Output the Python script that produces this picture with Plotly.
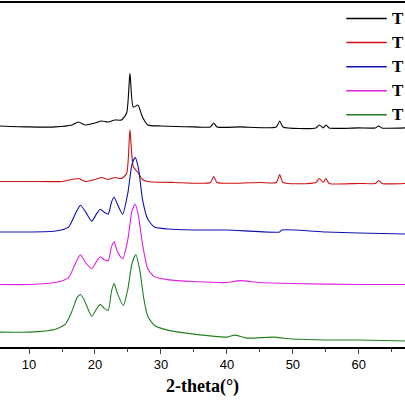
import plotly.graph_objects as go

# 2-theta positions and offset intensities (arbitrary units)
x_black = [5.6, 10, 14, 16.5, 17.5, 18.5, 20, 21, 22, 23, 24, 24.8, 25.3, 25.8, 26.5, 27.2, 28, 30, 35, 37.5, 38, 38.5, 42, 47.5, 48, 48.5, 53.5, 54, 54.6, 55, 55.5, 60, 62.5, 63, 63.5, 67]
y_black = [279, 278, 278, 280, 283, 280, 282, 284, 283, 285, 285, 292, 332, 298, 300, 288, 280, 279, 278, 278, 282, 278, 278, 278, 284, 278, 277, 280, 277, 280, 277, 277, 277, 279, 277, 277]

x_red = [5.6, 10, 15, 17.5, 18.5, 20, 21, 22, 23, 24, 24.8, 25.3, 25.8, 26.5, 27.2, 28, 32, 37.5, 38, 38.5, 45, 47.5, 48, 48.5, 53.5, 54, 54.6, 55, 55.5, 60, 62.5, 63, 63.5, 67]
y_red = [223, 223, 223, 226, 223, 225, 227, 225, 227, 226, 231, 275, 238, 232, 225, 223, 222, 222, 228, 222, 222, 222, 230, 222, 222, 226, 222, 226, 221, 221, 221, 224, 221, 221]

x_blue = [5.6, 10, 14, 16, 17, 17.8, 18.6, 19.5, 20.3, 20.8, 21.4, 22, 22.5, 22.9, 23.4, 24.2, 25, 25.6, 26.1, 26.6, 27.2, 28, 29, 31, 35, 40, 48, 48.3, 55, 60, 67]
y_blue = [172, 172, 173, 177, 190, 199, 192, 183, 191, 195, 192, 190, 202, 207, 200, 190, 212, 240, 247, 236, 205, 185, 177, 175, 174, 174, 172, 174, 172, 171, 170]

x_mag = [5.6, 10, 14, 16, 17, 17.8, 18.6, 19.5, 20.3, 20.8, 21.4, 22, 22.5, 22.9, 23.4, 24.2, 25, 25.6, 26.1, 26.6, 27.2, 28, 29, 31, 35, 40, 42, 45, 50, 60, 67]
y_mag = [119, 119, 121, 126, 140, 149, 141, 135, 143, 147, 144, 143, 157, 162, 152, 145, 165, 193, 200, 188, 160, 135, 127, 124, 122, 121, 123, 121, 120, 119, 119]

x_green = [5.6, 10, 14, 15.5, 16.5, 17.3, 17.8, 18.4, 19.5, 20.3, 20.8, 21.4, 22, 22.5, 22.9, 23.4, 24.3, 25, 25.6, 26.2, 26.8, 27.4, 28, 29, 31, 35, 40, 41.2, 43, 47, 50, 55, 60, 67]
y_green = [71, 71, 74, 79, 92, 106, 109, 103, 87, 95, 99, 95, 93, 112, 120, 110, 98, 115, 140, 149, 133, 105, 87, 78, 73, 69, 66, 68, 65, 66, 64, 63, 63, 62]

x_ticks = [10, 20, 30, 40, 50, 60]
legend_names = ["T", "T", "T", "T", "T"]
colors = ["#000000", "#d01010", "#1010b0", "#e020e0", "#208020"]

series = [(x_black, y_black), (x_red, y_red), (x_blue, y_blue), (x_mag, y_mag), (x_green, y_green)]

fig = go.Figure()
for (xs, ys), c in zip(series, colors):
    fig.add_trace(go.Scatter(x=xs, y=ys, mode="lines", line=dict(color=c, width=1.1, shape="spline", smoothing=0.6),
                             showlegend=False))

# legend drawn manually (cropped at the right edge, as in the reference)
leg_y = [0.955, 0.885, 0.815, 0.745, 0.675]
for yy, c, name in zip(leg_y, colors, legend_names):
    fig.add_shape(type="line", xref="paper", yref="paper", x0=0.855, x1=0.955, y0=yy, y1=yy,
                  line=dict(color=c, width=1.5))
    fig.add_annotation(xref="paper", yref="paper", x=0.962, y=yy, yanchor="middle",
                       text="<b>" + name + "</b>", showarrow=False, xanchor="left",
                       font=dict(family="Liberation Serif", size=17, color="black"))

fig.update_layout(
    width=405, height=405, margin=dict(l=0, r=0, t=3, b=58),
    plot_bgcolor="white", paper_bgcolor="white",
    xaxis=dict(range=[5.6, 67], tickvals=x_ticks, ticks="outside", ticklen=5, tickwidth=1.2,
               minor=dict(dtick=5, ticks="outside", ticklen=3), showgrid=False, zeroline=False,
               showline=True, linecolor="black", linewidth=1.5, mirror=True,
               tickfont=dict(family="Arial", size=13, color="black"),
               title=dict(text="<b>2-theta(°)</b>", font=dict(family="Liberation Serif", size=18, color="black"), standoff=8)),
    yaxis=dict(range=[56, 403], showticklabels=False, ticks="", showgrid=False, zeroline=False,
               showline=False),
)
fig.write_html("out.html", post_script="document.body.style.margin='0';",
               config={"displayModeBar": False})
